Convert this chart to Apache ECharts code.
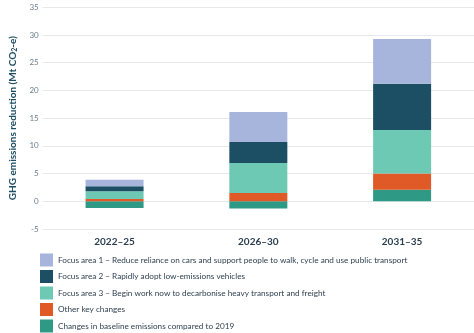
<!DOCTYPE html>
<html>
<head>
<meta charset="utf-8">
<script src="https://cdn.jsdelivr.net/npm/echarts@6/dist/echarts.min.js"></script>
<style>
html,body{margin:0;padding:0;background:#fff;}
#c{width:474px;height:333px;}
</style>
</head>
<body>
<div id="c"></div>
<script>
const categories = ['2022–25', '2026–30', '2031–35'];
const baseline = [-1.2, -1.3, 2.1];
const otherKey = [0.4, 1.5, 2.9];
const focus3 = [1.4, 5.4, 7.85];
const focus2 = [0.9, 3.8, 8.35];
const focus1 = [1.2, 5.4, 8.1];
const yTicks = { min: -5, max: 35, interval: 5 };

const names = [
  'Focus area 1 – Reduce reliance on cars and support people to walk, cycle and use public transport',
  'Focus area 2 – Rapidly adopt low-emissions vehicles',
  'Focus area 3 – Begin work now to decarbonise heavy transport and freight',
  'Other key changes',
  'Changes in baseline emissions compared to 2019'
];
const colors = ['#a7b5dc', '#1c4f64', '#6dc9b4', '#e05a27', '#2e9a86'];
const dataBy = [focus1, focus2, focus3, otherKey, baseline];

const order = [4, 3, 2, 1, 0];
const series = order.map(i => ({
  name: names[i],
  type: 'bar',
  stack: 'total',
  barWidth: 58,
  itemStyle: { color: colors[i] },
  data: dataBy[i]
}));

const chart = echarts.init(document.getElementById('c'), null, { renderer: 'canvas' });
chart.setOption({
  animation: false,
  textStyle: { fontFamily: 'Lato' },
  grid: { left: 35, right: -3.5, top: 7.3, bottom: 104 },
  xAxis: {
    type: 'category',
    data: categories,
    axisLine: { show: false },
    axisTick: { show: false },
    axisLabel: { margin: 8, color: '#2b3e50', fontWeight: 'bold', fontSize: 10, fontFamily: 'Lato' }
  },
  yAxis: {
    type: 'value',
    min: yTicks.min, max: yTicks.max, interval: yTicks.interval,
    name: 'GHG emissions reduction (Mt CO{s|2}-e)',
    nameLocation: 'middle',
    nameGap: 23,
    nameTextStyle: {
      color: '#1f4e63', fontWeight: 'bold', fontSize: 10, fontFamily: 'Lato',
      rich: { s: { fontSize: 7, fontWeight: 'bold', color: '#1f4e63', verticalAlign: 'bottom', padding: [4, 0, 0, 0] } }
    },
    axisLine: { show: false },
    axisTick: { show: false },
    axisLabel: { margin: 4, color: '#6a7d8c', fontSize: 8, fontFamily: 'Lato' },
    splitLine: { lineStyle: { color: '#e6e9ec', width: 1 } }
  },
  legend: {
    orient: 'vertical',
    left: 40,
    top: 253.5,
    padding: 0,
    height: 80,
    itemWidth: 13,
    itemHeight: 13,
    itemGap: 3.5,
    icon: 'rect',
    data: names,
    textStyle: { color: '#2d3f50', fontSize: 8.2, fontFamily: 'Lato' },
    itemStyle: { borderWidth: 0 }
  },
  series: series
});
</script>
</body>
</html>
